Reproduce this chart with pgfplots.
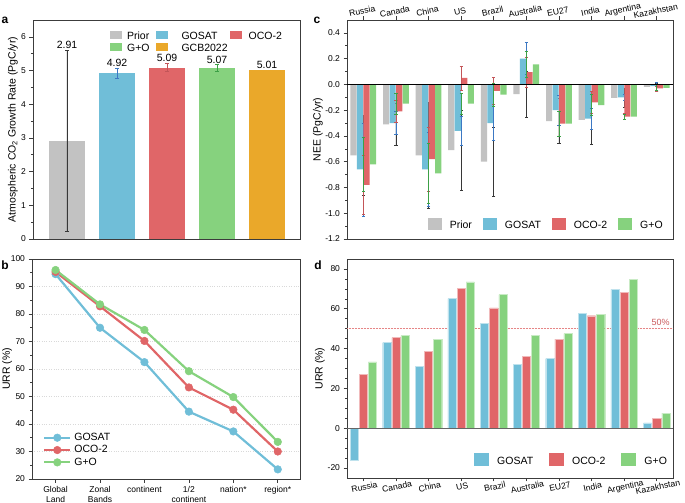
\documentclass[border=0pt]{standalone}
\usepackage{fontspec}
\setmainfont{Liberation Sans}
\setsansfont{Liberation Sans}
\usepackage{pgfplots}
\usepackage{pgfplotstable}
\pgfplotsset{compat=1.18}

% series colours
\definecolor{cPrior}{RGB}{194,194,194}
\definecolor{cGOSAT}{RGB}{112,190,216}
\definecolor{cOCO}{RGB}{224,102,104}
\definecolor{cGO}{RGB}{134,210,126}
\definecolor{cGCB}{RGB}{234,168,42}
% error-bar colours
\definecolor{ePrior}{RGB}{55,55,55}
\definecolor{eGOSAT}{RGB}{60,120,195}
\definecolor{eOCO}{RGB}{195,85,88}
\definecolor{eGO}{RGB}{60,160,70}
\definecolor{frame}{RGB}{60,60,60}

\newcommand{\tickfont}{\fontsize{8.5}{10}\selectfont}
\newcommand{\labfont}{\fontsize{10.5}{12}\selectfont}
\newcommand{\legfont}{\fontsize{10.5}{12}\selectfont}

\pgfplotsset{
  every axis/.append style={
    scale only axis,
    axis line style={frame, line width=0.8pt},
    tick style={frame, line width=0.6pt},
    tick align=outside,
    major tick length=3.5pt,
    minor tick length=2pt,
    tick label style={font=\tickfont},
    label style={font=\labfont},
    /pgf/number format/assume math mode=true,
  },
  % square colour patches for the bar legends
  patchA/.style={legend image code/.code={\fill[##1,draw=none] (0pt,-3pt) rectangle (12pt,5.5pt);}},
  patchC/.style={legend image code/.code={\fill[##1,draw=none] (0pt,-4pt) rectangle (14pt,7.5pt);}},
  patchD/.style={legend image code/.code={\fill[##1,draw=none] (0pt,-4.5pt) rectangle (15pt,8pt);}},
  % y label centred at a fixed distance left of the axis
  ylab/.style={ylabel style={at={(axis description cs:#1,0.5)}, anchor=center}},
}

% --- a: growth rate, value and 1-sigma ---
\pgfplotstableread{
x y e
0 2.91 2.69
1 4.92 0.15
2 5.09 0.11
3 5.07 0.10
4 5.01 0.00
}\growth

% --- c: national NEE (PgC/yr), value and uncertainty ---
\pgfplotstableread{
x y e
0 -0.550 0.310
1 -0.310 0.160
2 -0.550 0.410
3 -0.510 0.310
4 -0.600 0.270
5 -0.075 0.180
6 -0.285 0.175
7 -0.275 0.190
8 -0.105 0.073
9 -0.020 0.030
}\neePrior
\pgfplotstableread{
x y e
0 -0.660 0.360
1 -0.300 0.090
2 -0.660 0.290
3 -0.360 0.110
4 -0.300 0.130
5  0.200 0.123
6 -0.200 0.114
7 -0.265 0.080
8 -0.100 0.023
9 -0.013 0.032
}\neeGOSAT
\pgfplotstableread{
x y e
0 -0.780 0.230
1 -0.210 0.085
2 -0.580 0.250
3  0.050 0.094
4 -0.050 0.107
5  0.095 0.114
6 -0.305 0.097
7 -0.140 0.085
8 -0.250 0.022
9 -0.031 0.020
}\neeOCO
\pgfplotstableread{
x y e
0 -0.620 0.210
1 -0.150 0.083
2 -0.690 0.230
3 -0.150 0.083
4 -0.080 0.088
5  0.155 0.100
6 -0.305 0.094
7 -0.160 0.082
8 -0.250 0.020
9 -0.026 0.023
}\neeGO

% --- d: national URR (%) ---
\pgfplotstableread{
x gosat oco go
0 -16.0 27.1 33.3
1  43.0 45.5 46.5
2  31.0 38.7 44.7
3  65.1 70.1 73.5
4  52.5 60.4 67.1
5  32.0 36.2 46.6
6  35.0 44.8 47.5
7  57.7 56.5 57.2
8  69.8 68.3 74.7
9   2.7  5.0  7.6
}\urrNat

% --- b: URR (%) by spatial scale ---
\pgfplotstableread{
x gosat oco go
0 94.5 95.3 96.0
1 75.0 82.8 83.5
2 62.5 70.2 74.2
3 44.5 53.3 59.2
4 37.3 45.2 49.8
5 23.5 30.0 33.5
}\urrScale

\begin{document}
\begin{tikzpicture}
\useasboundingbox (0,0) rectangle (685pt,503pt);

% ================= a =================
\begin{axis}[
  at={(33pt,264pt)}, anchor=south west,
  width=267pt, height=219pt,
  xmin=-0.68, xmax=4.66, ymin=0, ymax=6.5,
  xtick=\empty,
  ytick={0,1,2,3,4,5,6},
  minor y tick num=1,
  ytick pos=left,
  ylabel={Atmospheric CO\textsubscript{2} Growth Rate (PgC/yr)},
  ylab=-0.075,
  legend columns=3,
  legend cell align=left,
  legend style={at={(0.288,0.952)}, anchor=north west, draw=none, fill=none,
    font=\legfont, row sep=1pt, inner sep=0pt,
    nodes={inner sep=1pt},
    /tikz/column 1/.style={column sep=4pt},
    /tikz/column 2/.style={column sep=5pt},
    /tikz/column 3/.style={column sep=13pt},
    /tikz/column 4/.style={column sep=1pt},
    /tikz/column 5/.style={column sep=6pt}},
]
\addplot[ybar, bar width=0.73, bar shift=0pt, fill=cPrior, draw=none, patchA,
  error bars/.cd, y dir=both, y explicit,
  error bar style={ePrior, line width=0.7pt},
  error mark options={rotate=90, mark size=2pt, ePrior, line width=0.7pt}]
  table[x=x, y=y, y error=e] {
x y e
0 2.91 2.69
};
\addlegendentry{Prior}
\addplot[ybar, bar width=0.73, bar shift=0pt, fill=cGOSAT, draw=none, patchA,
  error bars/.cd, y dir=both, y explicit,
  error bar style={eGOSAT, line width=0.7pt},
  error mark options={rotate=90, mark size=2pt, eGOSAT, line width=0.7pt}]
  table[x=x, y=y, y error=e] {
x y e
1 4.92 0.15
};
\addlegendentry{GOSAT}
\addplot[ybar, bar width=0.73, bar shift=0pt, fill=cOCO, draw=none, patchA,
  error bars/.cd, y dir=both, y explicit,
  error bar style={eOCO, line width=0.7pt},
  error mark options={rotate=90, mark size=2pt, eOCO, line width=0.7pt}]
  table[x=x, y=y, y error=e] {
x y e
2 5.09 0.11
};
\addlegendentry{OCO-2}
\addplot[ybar, bar width=0.73, bar shift=0pt, fill=cGO, draw=none, patchA,
  error bars/.cd, y dir=both, y explicit,
  error bar style={eGO, line width=0.7pt},
  error mark options={rotate=90, mark size=2pt, eGO, line width=0.7pt}]
  table[x=x, y=y, y error=e] {
x y e
3 5.07 0.10
};
\addlegendentry{G+O}
\addplot[ybar, bar width=0.73, bar shift=0pt, fill=cGCB, draw=none, patchA]
  table[x=x, y=y] {
x y
4 5.01
};
\addlegendentry{GCB2022}
% value labels sit on top of the whiskers
\addplot[draw=none, mark=none, forget plot,
  nodes near coords={\pgfmathprintnumber[fixed,fixed zerofill,precision=2]{\pgfplotspointmeta}},
  point meta=explicit,
  every node near coord/.append style={font=\legfont, anchor=south, inner sep=1.5pt}]
  table[x=x, y expr=\thisrow{y}+\thisrow{e}, meta=y] {\growth};
\end{axis}

% ================= b =================
\begin{axis}[
  at={(32pt,24pt)}, anchor=south west,
  width=268pt, height=220pt,
  xmin=-0.53, xmax=5.5, ymin=20, ymax=100,
  xtick={0,1,2,3,4,5},
  xticklabels={{Global\\Land},{Zonal\\Bands},continent,{1/2\\continent},nation*,region*},
  xticklabel style={align=center, font=\tickfont, text depth=0pt},
  xtick pos=left,
  ytick={20,30,40,50,60,70,80,90,100},
  minor y tick num=1,
  ytick pos=left,
  ymajorgrids,
  grid style={dotted, black!15, line width=0.5pt},
  ylabel={URR (\%)},
  ylab=-0.093,
  legend cell align=left,
  legend style={at={(0.041,0.05)}, anchor=south west, draw=none, fill=none,
    font=\legfont, row sep=1.5pt, inner sep=0pt, nodes={inner sep=1pt},
    /tikz/every odd column/.append style={column sep=2pt}},
  legend image code/.code={\draw[#1, mark=none] (0pt,0pt) -- (26pt,0pt);
    \draw[#1] plot coordinates {(13pt,0pt)};},
]
\addplot[cGOSAT, line width=2.2pt, mark=*, mark size=3.8pt,
  mark options={fill=cGOSAT, draw=cGOSAT, line width=0.5pt}]
  table[x=x, y=gosat] {\urrScale};
\addlegendentry{GOSAT}
\addplot[cOCO, line width=2.2pt, mark=*, mark size=3.8pt,
  mark options={fill=cOCO, draw=cOCO, line width=0.5pt}]
  table[x=x, y=oco] {\urrScale};
\addlegendentry{OCO-2}
\addplot[cGO, line width=2.2pt, mark=*, mark size=3.8pt,
  mark options={fill=cGO, draw=cGO, line width=0.5pt}]
  table[x=x, y=go] {\urrScale};
\addlegendentry{G+O}
\end{axis}

% ================= c =================
\begin{axis}[
  at={(347pt,264pt)}, anchor=south west,
  width=326pt, height=219pt,
  xmin=-0.5, xmax=9.5, ymin=-1.2, ymax=0.5,
  xtick={0,1,2,3,4,5,6,7,8,9},
  xticklabels={Russia,Canada,China,US,Brazil,Australia,EU27,India,Argentina,Kazakhstan},
  xtick pos=right,
  xticklabel style={rotate=12, anchor=south, font=\fontsize{8.6}{10}\selectfont, inner sep=2pt},
  ytick={-1.2,-1,-0.8,-0.6,-0.4,-0.2,0,0.2,0.4},
  minor y tick num=1,
  ytick pos=left,
  yticklabel style={/pgf/number format/.cd, fixed, fixed zerofill, precision=1},
  ylabel={NEE (PgC/yr)},
  ylab=-0.089,
  legend columns=4,
  legend style={at={(0.972,0.035)}, anchor=south east, draw=none, fill=none,
    font=\legfont, inner sep=0pt, nodes={inner sep=1pt},
    /tikz/every odd column/.append style={column sep=7pt},
    /tikz/every even column/.append style={column sep=10pt}},
]
\addplot[ybar, bar width=0.19, bar shift=-0.3, fill=cPrior, draw=none, patchC,
  error bars/.cd, y dir=both, y explicit,
  error bar style={ePrior, line width=0.6pt},
  error mark options={rotate=90, mark size=1.6pt, ePrior, line width=0.6pt}]
  table[x=x, y=y, y error=e] {\neePrior};
\addlegendentry{Prior}
\addplot[ybar, bar width=0.19, bar shift=-0.1, fill=cGOSAT, draw=none, patchC,
  error bars/.cd, y dir=both, y explicit,
  error bar style={eGOSAT, line width=0.6pt},
  error mark options={rotate=90, mark size=1.6pt, eGOSAT, line width=0.6pt}]
  table[x=x, y=y, y error=e] {\neeGOSAT};
\addlegendentry{GOSAT}
\addplot[ybar, bar width=0.19, bar shift=0.1, fill=cOCO, draw=none, patchC,
  error bars/.cd, y dir=both, y explicit,
  error bar style={eOCO, line width=0.6pt},
  error mark options={rotate=90, mark size=1.6pt, eOCO, line width=0.6pt}]
  table[x=x, y=y, y error=e] {\neeOCO};
\addlegendentry{OCO-2}
\addplot[ybar, bar width=0.19, bar shift=0.3, fill=cGO, draw=none, patchC,
  error bars/.cd, y dir=both, y explicit,
  error bar style={eGO, line width=0.6pt},
  error mark options={rotate=90, mark size=1.6pt, eGO, line width=0.6pt}]
  table[x=x, y=y, y error=e] {\neeGO};
\addlegendentry{G+O}
\draw[black, line width=0.9pt] (axis cs:-0.5,0) -- (axis cs:9.5,0);
\end{axis}

% ================= d =================
\begin{axis}[
  at={(347pt,25pt)}, anchor=south west,
  width=326pt, height=219pt,
  xmin=-0.5, xmax=9.5, ymin=-25, ymax=85,
  xtick={0,1,2,3,4,5,6,7,8,9},
  xticklabels={Russia,Canada,China,US,Brazil,Australia,EU27,India,Argentina,Kazakhstan},
  xtick pos=left,
  xticklabel style={rotate=12, anchor=north, font=\fontsize{8.6}{10}\selectfont, inner sep=2pt},
  ytick={-20,0,20,40,60,80},
  minor y tick num=3,
  ytick pos=left,
  ylabel={URR (\%)},
  ylab=-0.083,
  legend columns=3,
  legend style={at={(0.985,0.05)}, anchor=south east, draw=none, fill=none,
    font=\legfont, inner sep=0pt, nodes={inner sep=1pt},
    /tikz/every odd column/.append style={column sep=7pt},
    /tikz/every even column/.append style={column sep=15pt}},
]
\draw[cOCO!80!white, densely dotted, line width=0.5pt] (axis cs:-0.5,50) -- (axis cs:9.5,50);
\node[anchor=south east, text=cOCO!90!black, font=\fontsize{9}{10}\selectfont, inner sep=1.5pt]
  at (axis cs:9.45,50.5) {50\%};
\addplot[ybar, bar width=0.25, bar shift=-0.28, fill=cGOSAT, draw=cGOSAT!45!white, line width=0.4pt, patchD]
  table[x=x, y=gosat] {\urrNat};
\addlegendentry{GOSAT}
\addplot[ybar, bar width=0.25, bar shift=0, fill=cOCO, draw=cOCO!45!white, line width=0.4pt, patchD]
  table[x=x, y=oco] {\urrNat};
\addlegendentry{OCO-2}
\addplot[ybar, bar width=0.25, bar shift=0.28, fill=cGO, draw=cGO!45!white, line width=0.4pt, patchD]
  table[x=x, y=go] {\urrNat};
\addlegendentry{G+O}
\draw[black!60, line width=1.1pt] (axis cs:-0.5,0) -- (axis cs:9.5,0);
\end{axis}

% panel letters
\node[font=\bfseries\fontsize{12}{14}\selectfont, anchor=center] at (5pt,483pt) {a};
\node[font=\bfseries\fontsize{12}{14}\selectfont, anchor=center] at (5pt,238pt) {b};
\node[font=\bfseries\fontsize{12}{14}\selectfont, anchor=center] at (317pt,483pt) {c};
\node[font=\bfseries\fontsize{12}{14}\selectfont, anchor=center] at (318pt,238pt) {d};
\end{tikzpicture}
\end{document}
